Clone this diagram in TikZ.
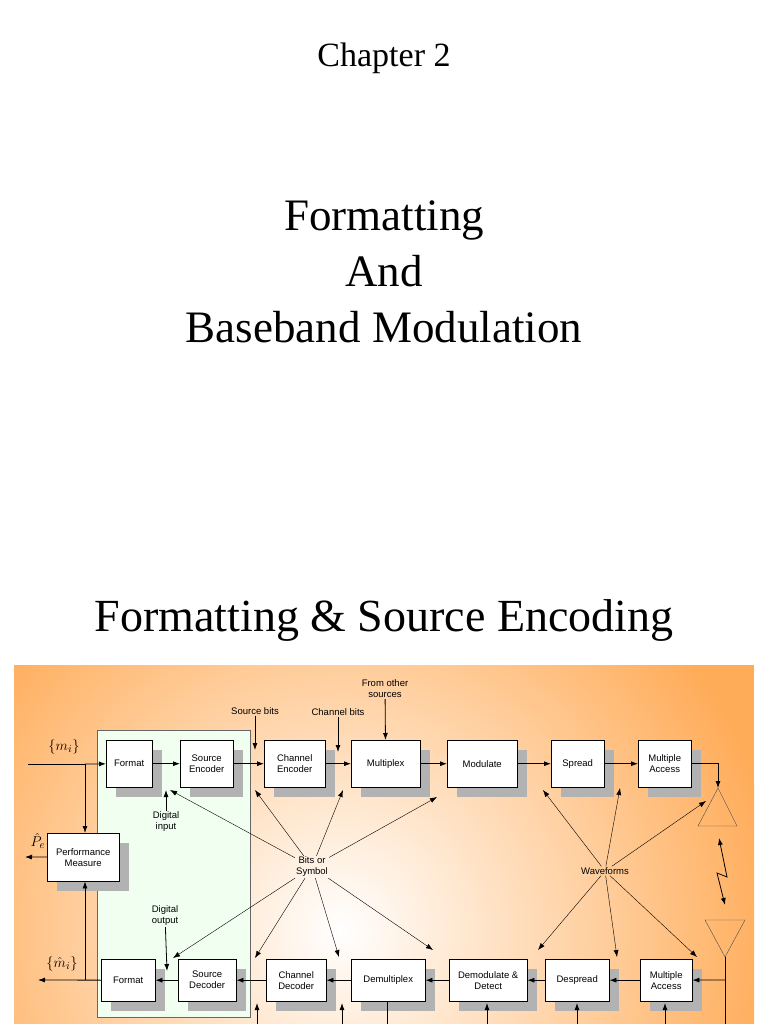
\documentclass[tikz,border=0pt]{standalone}
\usepackage{fontspec}
\setmainfont{Liberation Serif}
\newfontfamily\diagfont{Liberation Sans}
\usetikzlibrary{arrows.meta,positioning}

\begin{document}
\begin{tikzpicture}[x=1pt,y=-1pt,
    blk/.style={draw,fill=white,font={\fontsize{9.5}{11}\diagfont},align=center,
        inner sep=0pt,anchor=north west},
    shadow/.style={fill=black!30,draw=none},
    lab/.style={font={\fontsize{9.5}{11}\diagfont},align=center,inner sep=1pt},
    mlab/.style={font={\fontsize{15}{17}\selectfont},inner sep=0pt},
    sig/.style={-{Latex[length=7pt,width=5pt]},thick},
    ray/.style={-{Latex[length=7pt,width=5pt]}},
    title/.style={align=center}]
\useasboundingbox (0,0) rectangle (768,1024);
% titles
\node[title,font={\fontsize{34}{40}\selectfont}] at (384,58) {Chapter 2};
\node[title,font={\fontsize{45}{56}\selectfont}] at (384,272) {Formatting\\And\\Baseband Modulation};
\node[title,font={\fontsize{46}{50}\selectfont}] at (384,620) {Formatting \& Source Encoding};
% background
\begin{scope}
\clip (14,665) rectangle (754,1024);
\fill[orange!65] (14,665) rectangle (754,1024);
\shade[inner color=white,outer color=orange!65] (340,930) circle (440);
\end{scope}
\fill[green!6,draw=black!60] (97,730) rectangle (250,1017);

% blocks: name, x0, y0, x1, y1, text
\foreach \n/\xa/\ya/\xb/\yb/\t in {
    fmt/106/740/152/787/Format,
    senc/180/740/233/787/{Source\\Encoder},
    cenc/264/740/325/787/{Channel\\Encoder},
    mux/351/740/420/787/Multiplex,
    mod/447/740/517/787/Modulate,
    spr/551/740/604/787/Spread,
    matx/638/740/691/787/{Multiple\\Access},
    pm/47/833/119/881/{Performance\\Measure},
    ofmt/101/959/155/1001/Format,
    sdec/178/959/236/1001/{Source\\Decoder},
    cdec/266/959/326/1001/{Channel\\Decoder},
    dmux/351/959/425/1001/Demultiplex,
    dem/449/959/527/1001/{Demodulate \&\\Detect},
    desp/545/959/609/1001/Despread,
    marx/640/959/692/1001/{Multiple\\Access}}{
  \fill[shadow] (\xa+10,\ya+10) rectangle (\xb+10,\yb+10);
  \node[blk,minimum width=\xb-\xa,minimum height=\yb-\ya] (\n) at (\xa,\ya) {\t};
}

% antennas
\draw[draw=black!70] (718,788) -- (737,826) -- (698,826) -- cycle;
\draw[draw=black!70] (705,920) -- (745,920) -- (725,957) -- cycle;
\coordinate (tx) at (718,788);
\coordinate (rx) at (725,957);
\draw[{Latex[length=7pt,width=5pt]}-{Latex[length=7pt,width=5pt]},thick]
    (719,838) -- (727,877) -- (717,873) -- (725,905);

% transmit chain
\coordinate (in) at (28,764);
\coordinate (sp) at (85,764);
\draw[thick] (in) -- (sp);
\draw[sig] (sp) -- (fmt);
\node[mlab] at (64,747) {$\{m_i\}$};
\draw[sig] (sp) -- (pm.north -| sp);
\draw[sig] (fmt) -- (senc);
\draw[sig] (senc) -- (cenc);
\draw[sig] (cenc) -- (mux);
\draw[sig] (mux) -- (mod);
\draw[sig] (mod) -- (spr);
\draw[sig] (spr) -- (matx);
\draw[sig] (matx.east) -| (tx);

% receive chain
\draw[thick] (rx) -- (725,1024);
\draw[sig] (725,980) -- (marx);
\draw[sig] (marx) -- (desp);
\draw[sig] (desp) -- (dem);
\draw[sig] (dem) -- (dmux);
\draw[sig] (dmux) -- (cdec);
\draw[sig] (cdec) -- (sdec);
\draw[sig] (sdec) -- (ofmt);
\coordinate (out) at (38,980);
\coordinate (sq) at (85,980);
\draw[sig] (ofmt) -- (out);
\draw[sig] (sq) -- (pm.south -| sq);
\node[mlab] at (62,964) {$\{\hat{m}_i\}$};
\coordinate (pe) at (25,857);
\draw[sig] (pm) -- (pe);
\node[mlab] at (38,841) {$\hat{P}_e$};

% side inputs
\node[lab] (sbits) at (255,711) {Source bits};
\draw[sig] (sbits.south) -- (255,750);
\node[lab] (cbits) at (338,712) {Channel bits};
\draw[sig] (cbits.south) -- (338,752);
\node[lab] (oth) at (385,689) {From other\\sources};
\draw[sig] (oth) -- (mux);
\node[lab] (din) at (166,822) {Digital\\input};
\draw[sig] (din) -- (166,790);
\node[lab] (dout) at (165,916) {Digital\\output};
\draw[sig] (dout) -- (167,971);

% bottom side lines
\foreach \x in {257,342,487,577,665}
  \draw[sig] (\x,1024) -- (\x,1003);
\draw[thick] (387,1001) -- (387,1024);

% bits or symbol
\node[lab] (bits) at (312,867) {Bits or\\Symbol};
\foreach \p in {(170,790),(255,790),(343,790),(437,797),
                (173,958),(255,958),(339,957),(433,950)}
  \draw[ray] (bits) -- \p;
% waveforms
\node[lab] (wav) at (605,871) {Waveforms};
\foreach \p in {(543,790),(620,788),(706,801),
                (538,950),(617,957),(697,957)}
  \draw[ray] (wav) -- \p;
\end{tikzpicture}
\end{document}
